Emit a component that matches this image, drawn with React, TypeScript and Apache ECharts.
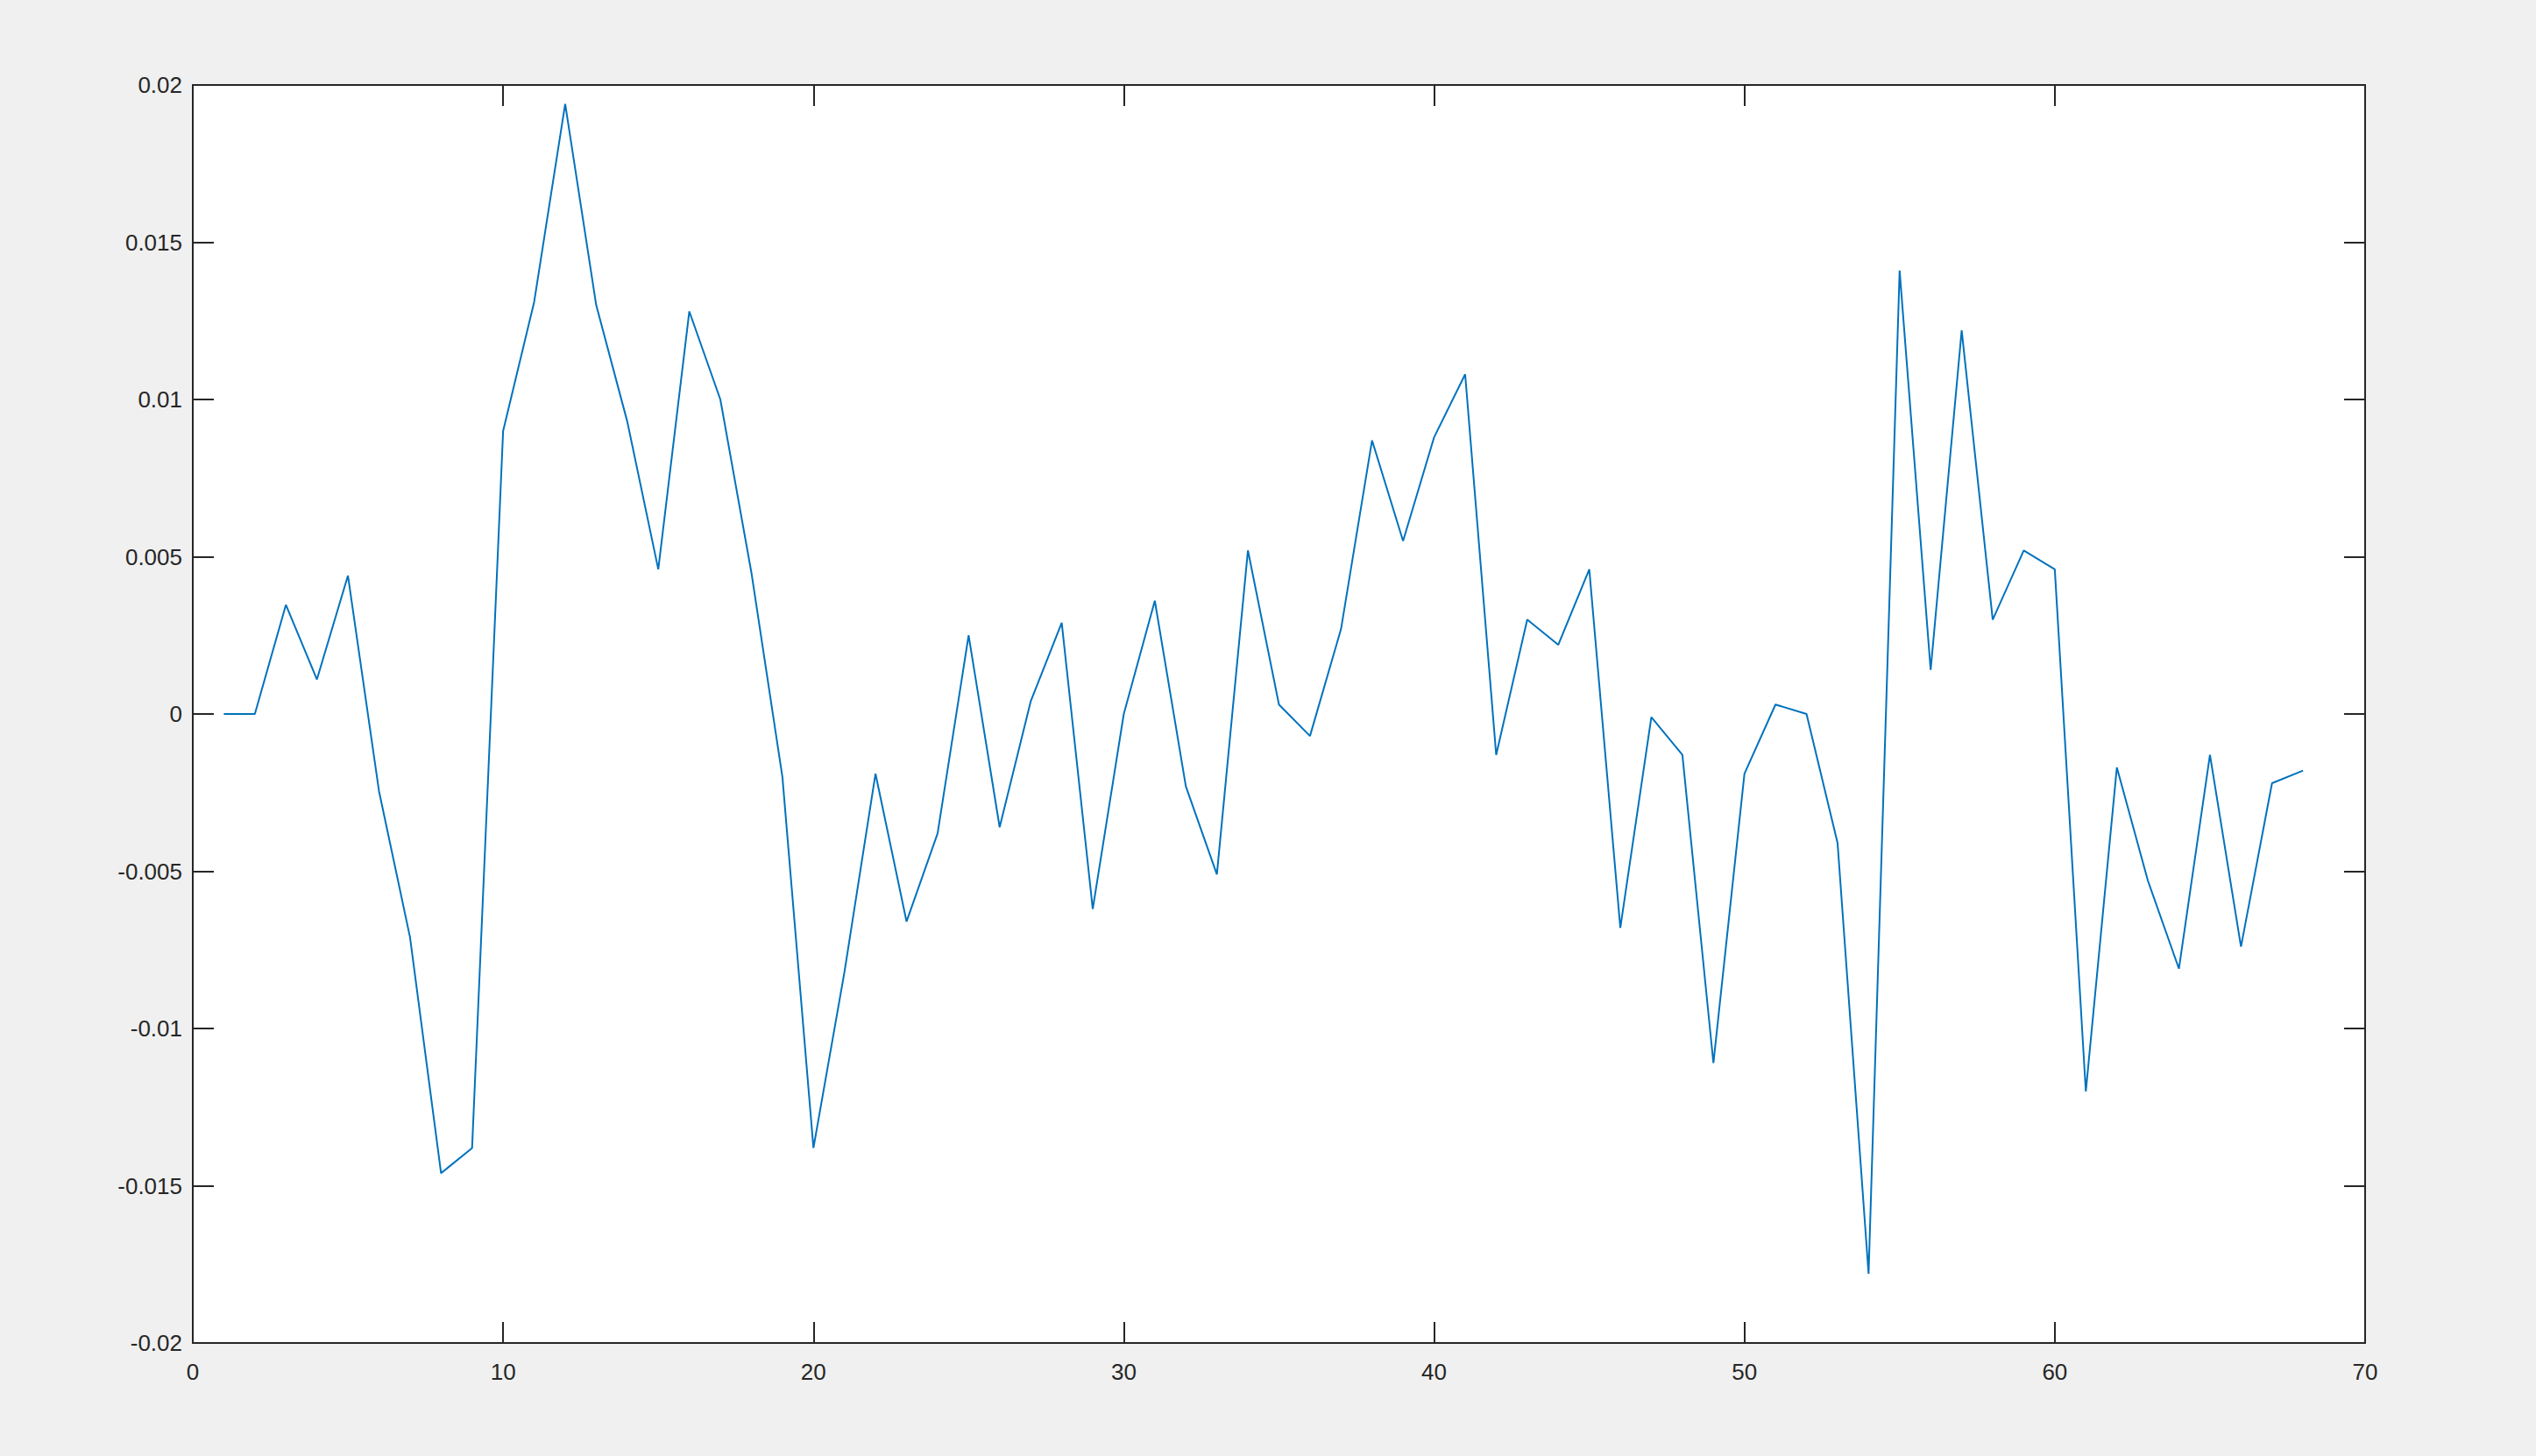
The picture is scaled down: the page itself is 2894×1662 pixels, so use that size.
import React, { useEffect, useRef } from 'react';
import * as echarts from 'echarts';

// sample index (1..68) and the measured value at each index
const xValues: number[] = Array.from({ length: 68 }, (_, i) => i + 1);
const yValues: number[] = [
  0, 0, 0.00347, 0.0011, 0.0044, -0.00245, -0.0071, -0.0146, -0.0138, 0.009,
  0.0131, 0.0194, 0.013, 0.0093, 0.0046, 0.0128, 0.01, 0.0045, -0.002, -0.0138,
  -0.0082, -0.0019, -0.0066, -0.0038, 0.0025, -0.0036, 0.0004, 0.0029, -0.0062, 0,
  0.0036, -0.0023, -0.0051, 0.0052, 0.0003, -0.0007, 0.0027, 0.0087, 0.0055, 0.0088,
  0.0108, -0.0013, 0.003, 0.0022, 0.0046, -0.0068, -0.0001, -0.0013, -0.0111, -0.0019,
  0.0003, 0, -0.0041, -0.0178, 0.0141, 0.0014, 0.0122, 0.003, 0.0052, 0.0046,
  -0.012, -0.0017, -0.0053, -0.0081, -0.0013, -0.0074, -0.0022, -0.0018,
];

const axisColor = '#262626';
const fontFamily = '"Liberation Sans", Arial, Helvetica, sans-serif';

const App: React.FC = () => {
  const chartRef = useRef<HTMLDivElement>(null);

  useEffect(() => {
    if (!chartRef.current) return;
    const chart = echarts.init(chartRef.current, undefined, { renderer: 'svg' });

    const lineStyle = { color: axisColor, width: 2 };
    const tick = { show: true, inside: true, length: 24, lineStyle };

    chart.setOption({
      animation: false,
      backgroundColor: '#f0f0f0',
      grid: { left: 220, top: 97, right: 195, bottom: 129, show: true, backgroundColor: '#ffffff', borderWidth: 0 },
      xAxis: [
        {
          type: 'value',
          min: 0,
          max: 70,
          interval: 10,
          axisLine: { show: true, onZero: false, lineStyle },
          axisTick: tick,
          splitLine: { show: false },
          axisLabel: { color: axisColor, fontSize: 26, fontFamily, margin: 20 },
        },
        {
          type: 'value',
          position: 'top',
          min: 0,
          max: 70,
          interval: 10,
          axisLine: { show: true, onZero: false, lineStyle },
          axisTick: tick,
          splitLine: { show: false },
          axisLabel: { show: false },
        },
      ],
      yAxis: [
        {
          type: 'value',
          min: -0.02,
          max: 0.02,
          interval: 0.005,
          axisLine: { show: true, onZero: false, lineStyle },
          axisTick: tick,
          splitLine: { show: false },
          axisLabel: {
            color: axisColor,
            fontSize: 26,
            fontFamily,
            margin: 12,
            formatter: (v: number) => String(parseFloat(v.toFixed(4))),
          },
        },
        {
          type: 'value',
          position: 'right',
          min: -0.02,
          max: 0.02,
          interval: 0.005,
          axisLine: { show: true, onZero: false, lineStyle },
          axisTick: tick,
          splitLine: { show: false },
          axisLabel: { show: false },
        },
      ],
      series: [
        {
          type: 'line',
          data: xValues.map((x, i) => [x, yValues[i]]),
          showSymbol: false,
          lineStyle: { color: '#0072bd', width: 2 },
          itemStyle: { color: '#0072bd' },
        },
      ],
    });

    return () => chart.dispose();
  }, []);

  return (
    <div
      ref={chartRef}
      style={{ position: 'fixed', left: 0, top: 0, width: '100vw', height: '100vh', background: '#f0f0f0' }}
    />
  );
};

export default App;
